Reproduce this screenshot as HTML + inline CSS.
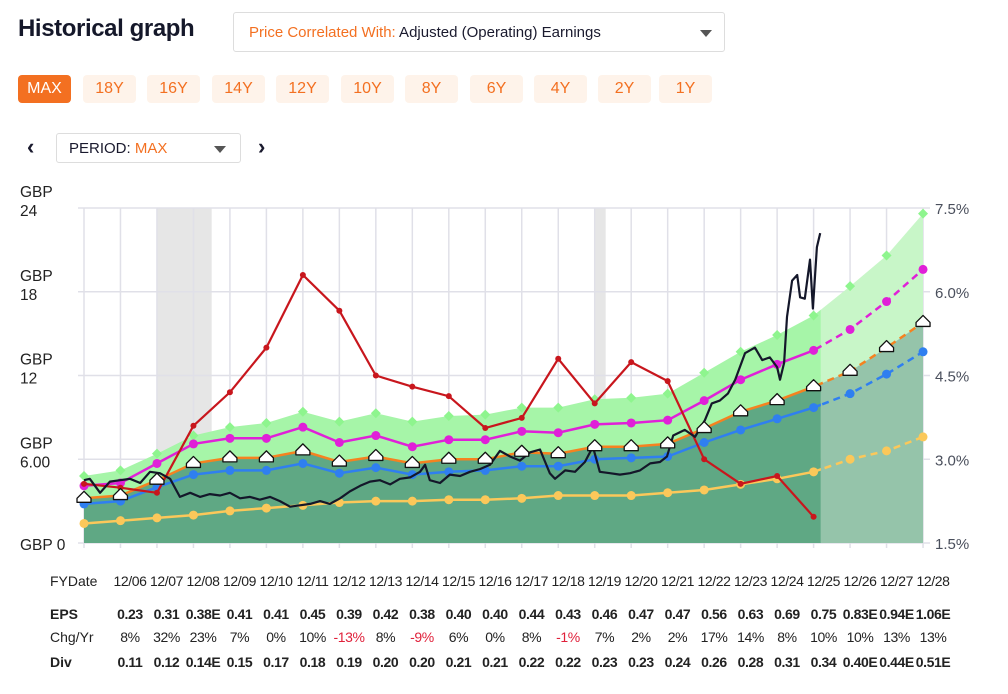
<!DOCTYPE html>
<html><head><meta charset="utf-8">
<style>
body{margin:0;width:1008px;height:694px;background:#fff;font-family:"Liberation Sans",sans-serif;position:relative;overflow:hidden;color:#1a1a2e}
.abs{position:absolute}
.btn{position:absolute;top:75px;height:28px;width:53px;border-radius:4px;background:#fef3ea;color:#f37021;font-size:16px;line-height:28px;text-align:center}
</style></head><body>
<div class="abs" style="left:18px;top:15px;font-size:24px;font-weight:bold;letter-spacing:-0.4px;color:#15182a">Historical graph</div>
<div class="abs" style="left:233px;top:12px;width:492px;height:40px;border:1px solid #ddd;border-radius:3px;font-size:15px;line-height:40px;box-sizing:border-box;padding-left:15px"><span style="color:#f37021">Price Correlated With:</span> Adjusted (Operating) Earnings<span style="position:absolute;right:12px;top:17px;border:6px solid transparent;border-top:7px solid #555;border-bottom:0"></span></div>
<div class="btn" style="left:18px;background:#f37021;color:#fff">MAX</div>
<div class="btn" style="left:83px">18Y</div>
<div class="btn" style="left:147px">16Y</div>
<div class="btn" style="left:212px">14Y</div>
<div class="btn" style="left:276px">12Y</div>
<div class="btn" style="left:341px">10Y</div>
<div class="btn" style="left:405px">8Y</div>
<div class="btn" style="left:470px">6Y</div>
<div class="btn" style="left:534px">4Y</div>
<div class="btn" style="left:598px">2Y</div>
<div class="btn" style="left:659px">1Y</div>
<div class="abs" style="left:27px;top:134px;font-size:22px;font-weight:bold">&#8249;</div>
<div class="abs" style="left:56px;top:133px;width:185px;height:30px;border:1px solid #ddd;border-radius:3px;box-sizing:border-box;font-size:15px;line-height:29px;padding-left:12px">PERIOD: <span style="color:#f37021">MAX</span><span style="position:absolute;right:14px;top:12px;border:6px solid transparent;border-top:7px solid #555;border-bottom:0"></span></div>
<div class="abs" style="left:258px;top:134px;font-size:22px;font-weight:bold">&#8250;</div>

<svg id="chart" class="abs" style="left:0;top:0" width="1008" height="694"></svg>

<script>
const fyLabels=["12/06","12/07","12/08","12/09","12/10","12/11","12/12","12/13","12/14","12/15","12/16","12/17","12/18","12/19","12/20","12/21","12/22","12/23","12/24","12/25","12/26","12/27","12/28"];
const epsVals=["0.23","0.31","0.38E","0.41","0.41","0.45","0.39","0.42","0.38","0.40","0.40","0.44","0.43","0.46","0.47","0.47","0.56","0.63","0.69","0.75","0.83E","0.94E","1.06E"];
const chgVals=["8%","32%","23%","7%","0%","10%","-13%","8%","-9%","6%","0%","8%","-1%","7%","2%","2%","17%","14%","8%","10%","10%","13%","13%"];
const divVals=["0.11","0.12","0.14E","0.15","0.17","0.18","0.19","0.20","0.20","0.21","0.21","0.22","0.22","0.23","0.23","0.24","0.26","0.28","0.31","0.34","0.40E","0.44E","0.51E"];
const leftTicks=[0,6,12,18,24];
const leftTickLabels=["GBP 0","GBP|6.00","GBP|12","GBP|18","GBP|24"];
const rightTicks=[1.5,3.0,4.5,6.0,7.5];
const greenTop=[4.8,5.2,6.4,7.7,8.3,8.6,9.4,8.7,9.3,8.7,9.1,9.2,9.7,9.7,10.3,10.4,10.7,12.2,13.7,14.9,16.3,18.4,20.6,23.6];
const magentaVals=[4.1,4.3,5.7,7.1,7.5,7.5,8.3,7.2,7.7,6.9,7.4,7.4,8.0,7.9,8.5,8.6,8.8,10.2,11.7,12.8,13.8,15.3,17.3,19.6];
const orangeVals=[3.2,3.4,4.5,5.7,6.1,6.1,6.6,5.8,6.2,5.7,6.0,6.0,6.5,6.4,6.9,6.9,7.1,8.2,9.4,10.2,11.2,12.3,14.0,15.8];
const blueVals=[2.8,3.0,4.0,4.9,5.2,5.2,5.7,5.0,5.4,4.9,5.1,5.2,5.5,5.5,6.0,6.1,6.2,7.2,8.1,8.9,9.7,10.7,12.1,13.7];
const yellowVals=[1.4,1.6,1.8,2.0,2.3,2.5,2.7,2.9,3.0,3.0,3.1,3.1,3.2,3.4,3.4,3.4,3.6,3.8,4.2,4.6,5.1,6.0,6.6,7.6];
const yieldVals=[2.56,2.49,2.40,3.6,4.2,5.0,6.3,5.66,4.5,4.3,4.13,3.56,3.74,4.8,4.0,4.74,4.4,3.0,2.56,2.7,1.97];
const priceT=[0,.16,.44,.71,.99,1.26,1.54,1.81,2.08,2.36,2.63,2.91,3.18,3.45,3.73,4.0,4.28,4.55,4.82,5.10,5.37,5.65,5.92,6.20,6.47,6.74,7.02,7.29,7.57,7.84,8.11,8.39,8.66,8.94,9.21,9.35,9.48,9.76,10.03,10.31,10.58,10.86,11.13,11.40,11.68,11.95,12.23,12.50,12.77,12.91,13.19,13.46,13.73,13.95,14.14,14.42,14.69,14.97,15.24,15.52,15.79,15.98,16.15,16.47,16.75,17.02,17.21,17.43,17.65,17.85,18.12,18.39,18.59,18.80,19.00,19.08,19.19,19.27,19.41,19.55,19.63,19.76,19.90,19.98,20.09,20.18];
const priceVals=[4.5,4.6,3.6,4.4,4.5,4.6,4.3,5.1,5.0,4.6,3.3,3.6,3.3,3.5,3.4,3.6,3.2,3.3,3.1,3.3,3.0,2.6,2.7,2.8,3.0,2.8,3.2,3.7,4.1,4.4,4.5,4.2,4.6,4.7,5.1,5.6,4.5,4.3,4.9,4.8,5.1,5.3,5.6,6.6,6.2,5.9,6.5,6.7,5.0,4.6,5.2,5.1,5.8,6.9,5.1,5.0,4.9,5.0,5.2,5.7,5.8,6.2,7.7,8.1,7.6,8.8,10.0,10.2,10.7,11.7,13.6,14.0,13.1,13.3,12.6,11.7,12.9,16.2,18.8,19.2,17.6,17.5,20.3,16.8,21.2,22.2];
const recessions=[[2.0,3.5],[14.0,14.3]];
const estStart=20.2;

const X0=84,DX=36.48,Y0=543,YT=208;
const xs=i=>X0+i*DX;
const yL=v=>Y0-(v/24)*(Y0-YT);
const yR=v=>Y0-((v-1.5)/6)*(Y0-YT);
const svg=document.getElementById('chart');
const NS='http://www.w3.org/2000/svg';
function mk(tag,attrs,parent){const e=document.createElementNS(NS,tag);for(const k in attrs)e.setAttribute(k,attrs[k]);(parent||svg).appendChild(e);return e;}
const pts=(arr,f)=>arr.map((v,i)=>xs(i).toFixed(1)+','+f(v).toFixed(1));

recessions.forEach(r=>{const e=mk('rect',{x:xs(r[0]),y:YT,width:(r[1]-r[0])*DX,height:Y0-YT,fill:'#e6e6e6'});

});
leftTicks.forEach(t=>{const e=mk('line',{x1:X0-6,x2:930,y1:yL(t),y2:yL(t),stroke:'#e0e0e8','stroke-width':1.5});

});
greenTop.forEach((v,i)=>{const e=mk('line',{x1:xs(i),x2:xs(i),y1:YT,y2:Y0+5,stroke:'#e0e0e8','stroke-width':1.5});

});
const defs=mk('defs',{});
const c1=mk('clipPath',{id:'act'},defs);mk('rect',{x:0,y:0,width:xs(estStart),height:694},c1);
const c2=mk('clipPath',{id:'est'},defs);mk('rect',{x:xs(estStart),y:0,width:400,height:694},c2);
function areas(clip,light,dark){
 const topP=pts(greenTop,yL), oP=pts(orangeVals,yL);
 const a=mk('polygon',{points:topP.concat(oP.slice().reverse()).join(' '),fill:light,'clip-path':'url(#'+clip+')'});
 
 
 const b=mk('polygon',{points:oP.concat([xs(orangeVals.length-1)+','+Y0,xs(0)+','+Y0]).join(' '),fill:dark,'clip-path':'url(#'+clip+')'});
 
 
}
areas('act','#a6f5a8','#5fa884');
areas('est','#c8f6c8','#95c4aa');
function series(arr,f,color,name,w,dashEst,marker){
 const p=pts(arr,f).join(' ');
 const l1=mk('polyline',{points:p,fill:'none',stroke:color,'stroke-width':w,'clip-path':dashEst?'url(#act)':''});
 
 
 if(dashEst){const l2=mk('polyline',{points:p,fill:'none',stroke:color,'stroke-width':w,'stroke-dasharray':'7,5','clip-path':'url(#est)'});
 
 }
 arr.forEach((v,i)=>{let m;
  if(marker==='diamond'){const x=xs(i),y=f(v);m=mk('polygon',{points:`${x},${y-5} ${x+5},${y} ${x},${y+5} ${x-5},${y}`,fill:color});}
  else if(marker!=='none'){m=mk('circle',{cx:xs(i),cy:f(v),r:marker,fill:color});}
  if(m){
  }
 });
}
series(greenTop,yL,'#8ef58e','high-pe','0',false,'diamond');
series(yellowVals,yL,'#fbc85a','dividend',2.5,true,4.5);
series(blueVals,yL,'#2f7ff0','normal-pe',2.5,true,4.5);
series(orangeVals,yL,'#f58220','earnings',2.5,true,'none');
series(magentaVals,yL,'#e020d8','avg-pe',2.5,true,4.5);
series(yieldVals,yR,'#c8161d','dividend-yield',2.2,false,3);
const pp=priceT.map((t,i)=>xs(t).toFixed(1)+','+yL(priceVals[i]).toFixed(1)).join(' ');
const pl=mk('polyline',{points:pp,fill:'none',stroke:'#14172a','stroke-width':2.2,'stroke-linejoin':'round'});


orangeVals.forEach((v,i)=>{const x=xs(i),y=yL(v);
 const t=mk('path',{d:`M${x-7},${y+4} L${x-7},${y} L${x},${y-7} L${x+7},${y} L${x+7},${y+4} Z`,fill:'#fff',stroke:'#111','stroke-width':1.3,'stroke-linejoin':'round'});
 
 });
leftTicks.forEach((t,i)=>{const parts=leftTickLabels[i].split('|');
 const g=mk('text',{x:20,y:parts.length>1?yL(t)-11:yL(t)+7,'font-size':15.5,fill:'#222','font-family':'Liberation Sans,sans-serif'});
 
 
 parts.forEach((p,j)=>{const s=mk('tspan',{x:20,dy:j?19:0},g);s.textContent=p;});});
rightTicks.forEach(t=>{const e=mk('text',{x:935,y:yR(t)+6,'font-size':15,fill:'#4a4f5c','font-family':'Liberation Sans,sans-serif'});e.textContent=t.toFixed(1)+'%';
 
 });
function row(label,vals,y,bold,colorFn){
 const l=mk('text',{x:50,y:y,'font-size':14,'font-weight':bold?'bold':'normal',fill:'#222','font-family':'Liberation Sans,sans-serif'});l.textContent=label;
 
 
 vals.forEach((v,i)=>{const e=mk('text',{x:130+i*36.5,y:y,'text-anchor':'middle','font-size':14,'font-weight':bold?'bold':'normal','letter-spacing':-0.4,fill:colorFn?colorFn(v):'#222','font-family':'Liberation Sans,sans-serif'});e.textContent=v;
  
  });
}
row('FYDate',fyLabels,586,false);
row('EPS',epsVals,619,true);
row('Chg/Yr',chgVals,642,false,v=>v[0]==='-'?'#e0203a':'#222');
row('Div',divVals,667,true);
</script>
</body></html>
